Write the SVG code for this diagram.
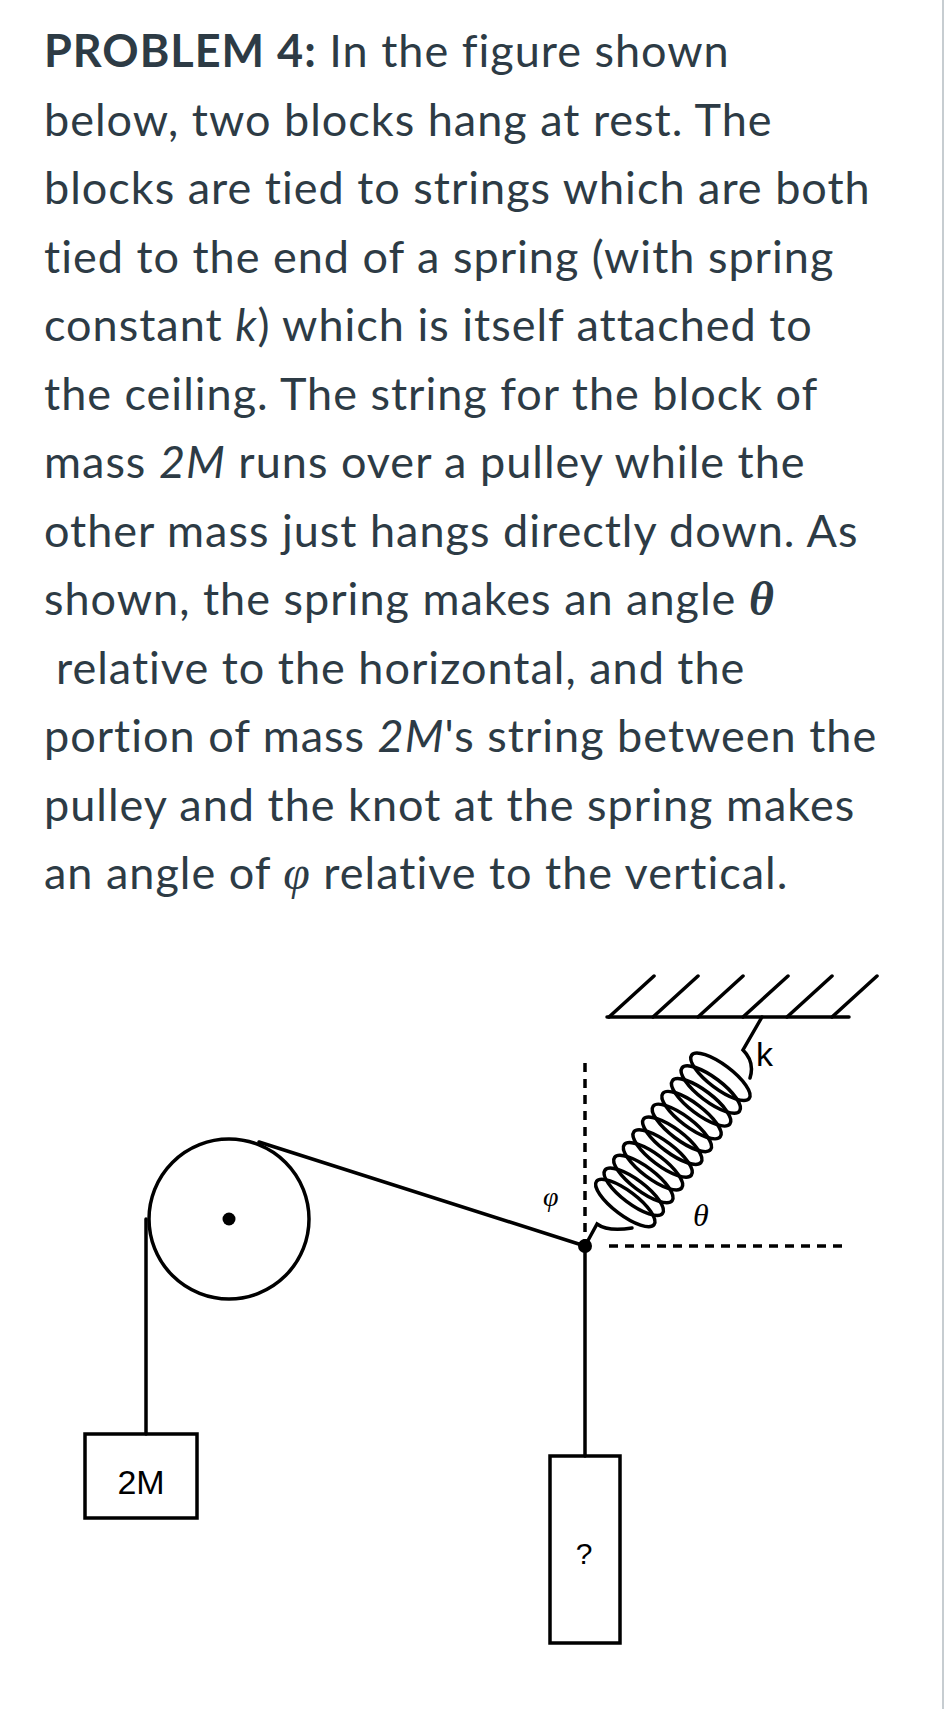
<svg xmlns="http://www.w3.org/2000/svg" width="945" height="1709" viewBox="0 0 945 1709">
<style>
.t{font-family:Lato,"Open Sans",sans-serif;font-size:45px;letter-spacing:1px;fill:#2d3b45;white-space:pre}
.s{stroke:#000;stroke-width:3.5;fill:none;stroke-linecap:round}
.d{stroke:#000;stroke-width:3.5;fill:none;stroke-dasharray:9 7}
.l{font-family:"Liberation Sans",Arial,sans-serif;fill:#000}
.g{font-family:"Liberation Serif","Times New Roman",serif;font-style:italic;fill:#000}
</style>
<rect width="945" height="1709" fill="#fff"/>
<line x1="943" y1="0" x2="943" y2="1709" stroke="#c7cdd1" stroke-width="2"/>
<g id="text" class="t">
<text x="44" y="67"><tspan font-weight="bold">PROBLEM 4:</tspan>  In the figure shown</text>
<text x="44" y="135.5">below, two blocks hang at rest. The</text>
<text x="44" y="204">blocks are tied to strings which are both</text>
<text x="44" y="272.5">tied to the end of a spring (with spring</text>
<text x="44" y="341">constant <tspan font-style="italic">k</tspan>) which is itself attached to</text>
<text x="44" y="409.5">the ceiling. The string for the block of</text>
<text x="44" y="478">mass <tspan font-style="italic">2M</tspan> runs over a pulley while the</text>
<text x="44" y="546.5">other mass just hangs directly down. As</text>
<text x="44" y="615">shown, the spring makes an angle <tspan font-family="Liberation Serif,serif" font-style="italic" font-weight="bold" font-size="48">θ</tspan></text>
<text x="56" y="683.5">relative to the horizontal, and the</text>
<text x="44" y="752">portion of mass <tspan font-style="italic">2M</tspan>'s string between the</text>
<text x="44" y="820.5">pulley and the knot at the spring makes</text>
<text x="44" y="889">an angle of <tspan font-family="Liberation Serif,serif" font-style="italic" font-size="48">φ</tspan> relative to the vertical.</text>
</g>
<g id="ceiling" class="s">
<line x1="607" y1="1017" x2="849" y2="1017"/>
<path d="M609 1017L654 976M653 1017L698 976M698 1017L743 976M743 1017L788 976M787 1017L832 976M832 1017L877 976"/>
</g>
<g id="spring" class="s">
<path d="M762 1017L743 1050Q755 1062 750 1078"/>
<g transform="translate(724,1072) rotate(127)">
<ellipse cx="6" cy="0" rx="12" ry="36"/>
<ellipse cx="22" cy="0" rx="12" ry="36"/>
<ellipse cx="38" cy="0" rx="12" ry="36"/>
<ellipse cx="54" cy="0" rx="12" ry="36"/>
<ellipse cx="70" cy="0" rx="12" ry="36"/>
<ellipse cx="86" cy="0" rx="12" ry="36"/>
<ellipse cx="102" cy="0" rx="12" ry="36"/>
<ellipse cx="118" cy="0" rx="12" ry="36"/>
<ellipse cx="134" cy="0" rx="12" ry="36"/>
<ellipse cx="150" cy="0" rx="12" ry="36"/>
<ellipse cx="164" cy="0" rx="12" ry="36"/>
</g>
<path d="M585 1246L597 1224Q608 1232 632 1228"/>
</g>
<g id="guides">
<line class="d" x1="585" y1="1063" x2="585" y2="1240"/>
<line class="d" x1="609" y1="1246" x2="849" y2="1246"/>
</g>
<g id="pulley">
<circle class="s" cx="229" cy="1219" r="80"/>
<circle cx="229" cy="1219" r="6.5"/>
</g>
<g id="strings" class="s">
<line x1="146" y1="1219" x2="146" y2="1434"/>
<line x1="259" y1="1142" x2="585" y2="1246"/>
<line x1="585" y1="1246" x2="585" y2="1456"/>
<circle cx="585" cy="1246" r="7" fill="#000" stroke="none"/>
</g>
<g id="block2M">
<rect class="s" x="85" y="1434" width="112" height="84" stroke-linecap="butt"/>
<text class="l" x="141" y="1494" font-size="34" text-anchor="middle">2M</text>
</g>
<g id="blockQ">
<rect class="s" x="550" y="1456" width="70" height="187" stroke-linecap="butt"/>
<text class="l" x="584" y="1564" font-size="30" text-anchor="middle">?</text>
</g>
<g id="labels">
<text class="g" x="543" y="1206" font-size="28">φ</text>
<text class="g" x="693" y="1226" font-size="32">θ</text>
<text class="l" x="756" y="1066" font-size="34">k</text>
</g>
</svg>
